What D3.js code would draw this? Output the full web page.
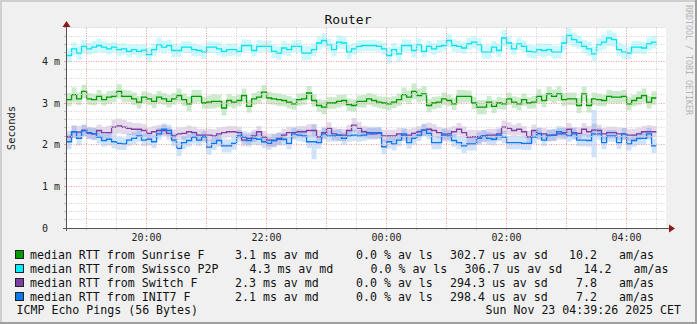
<!DOCTYPE html>
<html><head><meta charset="utf-8">
<script src="https://cdn.jsdelivr.net/npm/d3@7"></script>
<style>
html,body{margin:0;padding:0;background:#f0f0f0;}
svg{display:block;}
text{font-family:"DejaVu Sans Mono",monospace;}
</style></head><body>
<svg id="chart" width="697" height="324"></svg>
<script>
// ---- chart data -------------------------------------------------------
const chartTitle = "Router";
const yAxisTitle = "Seconds";
const footerLeft = "ICMP Echo Pings (56 Bytes)";
const footerRight = "Sun Nov 23 04:39:26 2025 CET";
const sideCredit = "RRDTOOL / TOBI OETIKER";

// time window (UTC-based wall clock) and 5-minute sample steps
const rangeStart = Date.UTC(2025, 10, 22, 18, 39, 26);
const rangeEnd   = Date.UTC(2025, 10, 23, 4, 39, 26);
const firstStep  = Date.UTC(2025, 10, 22, 18, 40, 0);
const stepMinutes = 5;

const yTickValues = [0, 1, 2, 3, 4];
const yTickLabels = ["0", "1 m", "2 m", "3 m", "4 m"];
const xTickLabels = ["20:00", "22:00", "00:00", "02:00", "04:00"];

// median RTT per 5-minute step, milliseconds
const sunriseMedian = [
3.08,3.20,3.10,3.28,3.10,3.08,3.16,3.08,3.14,3.16,3.28,3.16,3.16,3.10,3.02,3.14,3.10,3.04,3.14,3.10,
3.04,3.10,3.18,3.08,2.98,3.16,3.16,3.00,3.02,3.04,3.04,2.88,3.06,3.02,3.06,3.18,2.92,3.10,3.14,
3.26,3.12,3.10,3.08,3.06,3.02,2.98,3.08,3.10,3.24,3.06,2.94,2.90,3.00,3.00,3.04,3.06,2.96,2.94,3.04,
3.04,3.10,3.06,3.02,3.00,2.98,3.02,3.08,3.20,3.14,3.28,3.18,3.22,2.94,3.00,3.02,3.10,3.06,2.98,3.16,
3.16,3.16,3.00,2.90,2.90,3.02,2.92,3.00,2.98,3.10,3.02,2.98,3.08,3.00,3.02,3.16,3.06,3.22,3.16,3.22,
3.08,3.10,3.10,2.94,3.22,2.94,3.10,3.08,3.06,3.16,3.14,3.14,3.16,2.98,3.06,3.12,3.18,3.02,3.12];
const swisscoMedian = [
4.14,4.30,4.20,4.36,4.30,4.34,4.38,4.34,4.30,4.34,4.28,4.30,4.24,4.28,4.24,4.27,4.16,4.28,4.40,4.34,
4.38,4.26,4.26,4.34,4.34,4.28,4.26,4.22,4.34,4.34,4.30,4.24,4.28,4.28,4.24,4.38,4.38,4.26,4.36,
4.36,4.36,4.24,4.20,4.32,4.28,4.36,4.36,4.20,4.20,4.28,4.44,4.50,4.40,4.28,4.46,4.44,4.22,4.30,4.36,
4.38,4.38,4.38,4.36,4.30,4.14,4.28,4.18,4.38,4.38,4.26,4.40,4.24,4.36,4.30,4.36,4.38,4.50,4.38,4.36,
4.32,4.42,4.46,4.40,4.22,4.22,4.34,4.26,4.56,4.44,4.30,4.42,4.36,4.24,4.22,4.28,4.26,4.28,4.22,4.22,
4.44,4.62,4.52,4.46,4.36,4.30,4.18,4.40,4.46,4.56,4.52,4.28,4.22,4.20,4.34,4.34,4.32,4.42,4.46];
const switchMedian = [
2.19,2.31,2.30,2.34,2.29,2.26,2.34,2.29,2.29,2.42,2.45,2.42,2.39,2.37,2.37,2.34,2.27,2.31,2.34,2.34,
2.27,2.21,2.26,2.27,2.31,2.29,2.23,2.23,2.23,2.21,2.26,2.29,2.31,2.31,2.29,2.11,2.15,2.21,2.31,2.18,
2.11,2.10,2.15,2.23,2.29,2.29,2.31,2.31,2.34,2.34,2.19,2.29,2.39,2.26,2.23,2.23,2.34,2.47,2.39,
2.31,2.29,2.26,2.27,2.21,2.21,2.21,2.26,2.23,2.23,2.27,2.31,2.35,2.37,2.34,2.29,2.23,2.26,2.31,2.37,
2.29,2.18,2.19,2.19,2.21,2.23,2.23,2.26,2.42,2.39,2.34,2.37,2.31,2.19,2.34,2.27,2.26,2.23,2.23,2.26,
2.29,2.37,2.29,2.27,2.37,2.31,2.35,2.34,2.26,2.29,2.29,2.26,2.26,2.23,2.23,2.26,2.31,2.31,2.31];
const init7Median = [
2.07,2.31,2.15,2.34,2.27,2.26,2.18,2.10,2.13,2.07,2.03,2.02,2.11,2.15,2.21,2.11,2.13,2.07,2.26,2.37,
2.34,2.11,1.91,2.05,2.10,2.18,2.11,2.19,1.94,2.03,2.10,1.97,1.97,2.03,2.21,2.18,2.10,2.15,2.13,2.07,
2.03,2.10,2.13,2.13,2.03,2.26,2.23,2.21,2.07,2.07,2.05,2.26,2.21,2.21,2.23,2.15,2.21,2.23,2.21,
2.23,2.26,2.29,2.29,1.95,2.07,2.02,2.11,2.26,2.05,2.15,2.23,2.35,2.27,2.05,2.05,2.26,2.21,2.10,2.05,
1.97,2.02,2.02,2.15,2.21,2.15,2.13,2.23,2.18,2.05,2.05,2.05,2.03,2.03,2.18,2.26,2.11,2.21,2.23,2.31,
2.26,2.21,2.26,2.11,2.11,2.10,2.26,2.26,2.05,2.21,2.21,2.05,2.26,2.02,2.10,2.15,2.15,2.26,1.97];

// half of the per-step standard deviation, milliseconds (band drawn as median ± this)
const swisscoSpread = [
0.17,0.15,0.17,0.16,0.14,0.15,0.16,0.13,0.14,0.13,0.15,0.14,0.15,0.13,0.15,0.14,0.18,0.15,0.17,0.15,
0.14,0.16,0.15,0.14,0.14,0.15,0.14,0.16,0.14,0.13,0.16,0.14,0.15,0.14,0.13,0.15,0.14,0.14,0.15,
0.13,0.14,0.16,0.17,0.16,0.15,0.14,0.15,0.18,0.17,0.15,0.16,0.17,0.15,0.16,0.16,0.15,0.17,0.14,0.14,
0.13,0.13,0.14,0.13,0.15,0.20,0.16,0.18,0.15,0.14,0.17,0.15,0.14,0.13,0.14,0.15,0.14,0.16,0.15,0.14,
0.14,0.14,0.15,0.16,0.16,0.17,0.15,0.16,0.20,0.16,0.14,0.15,0.14,0.15,0.16,0.15,0.16,0.15,0.16,0.15,
0.18,0.20,0.17,0.16,0.16,0.17,0.18,0.16,0.18,0.19,0.17,0.16,0.17,0.16,0.15,0.15,0.15,0.16,0.15];
const sunriseSpread = [
0.16,0.18,0.15,0.16,0.14,0.14,0.15,0.14,0.15,0.14,0.17,0.15,0.14,0.15,0.15,0.14,0.15,0.16,0.15,0.14,
0.15,0.14,0.17,0.15,0.18,0.16,0.15,0.14,0.16,0.17,0.15,0.18,0.15,0.15,0.14,0.17,0.15,0.14,0.15,
0.17,0.15,0.14,0.15,0.14,0.15,0.14,0.15,0.14,0.17,0.15,0.15,0.17,0.15,0.14,0.15,0.14,0.15,0.15,0.14,
0.15,0.14,0.15,0.14,0.15,0.16,0.14,0.15,0.17,0.16,0.19,0.17,0.18,0.16,0.15,0.14,0.15,0.14,0.15,0.16,
0.15,0.14,0.15,0.17,0.17,0.15,0.16,0.15,0.14,0.15,0.14,0.16,0.15,0.14,0.15,0.17,0.16,0.17,0.16,0.18,
0.16,0.15,0.15,0.18,0.17,0.17,0.15,0.15,0.14,0.16,0.15,0.15,0.15,0.16,0.14,0.16,0.17,0.15,0.16];
const switchSpread = [
0.14,0.15,0.15,0.14,0.14,0.15,0.14,0.14,0.17,0.18,0.18,0.17,0.16,0.15,0.15,0.15,0.14,0.14,0.14,0.14,
0.15,0.16,0.15,0.15,0.15,0.14,0.15,0.15,0.15,0.16,0.15,0.14,0.14,0.14,0.14,0.15,0.15,0.15,0.14,
0.15,0.16,0.16,0.15,0.15,0.14,0.14,0.14,0.14,0.15,0.15,0.16,0.14,0.15,0.15,0.15,0.15,0.14,0.17,0.16,
0.14,0.14,0.14,0.14,0.15,0.15,0.15,0.14,0.15,0.15,0.14,0.14,0.15,0.16,0.15,0.14,0.15,0.15,0.14,0.15,
0.15,0.18,0.17,0.16,0.15,0.15,0.15,0.15,0.16,0.15,0.14,0.15,0.14,0.15,0.14,0.14,0.14,0.14,0.14,0.14,
0.14,0.15,0.14,0.14,0.15,0.14,0.15,0.14,0.14,0.14,0.14,0.15,0.14,0.14,0.15,0.15,0.14,0.16,0.14];
const init7Spread = [
0.18,0.15,0.17,0.14,0.14,0.14,0.15,0.15,0.15,0.16,0.16,0.15,0.15,0.15,0.14,0.15,0.15,0.15,0.14,0.14,
0.14,0.15,0.18,0.16,0.15,0.15,0.15,0.14,0.18,0.16,0.15,0.16,0.16,0.15,0.14,0.15,0.15,0.15,0.15,
0.15,0.15,0.15,0.15,0.15,0.14,0.14,0.14,0.15,0.15,0.42,0.15,0.14,0.14,0.14,0.14,0.15,0.14,0.14,0.14,
0.14,0.14,0.14,0.14,0.18,0.16,0.16,0.15,0.14,0.15,0.15,0.14,0.14,0.14,0.16,0.16,0.14,0.14,0.15,0.16,
0.17,0.16,0.16,0.15,0.14,0.15,0.15,0.14,0.15,0.16,0.16,0.16,0.16,0.16,0.15,0.14,0.15,0.14,0.14,0.14,
0.14,0.14,0.14,0.15,0.15,0.15,0.57,0.14,0.16,0.14,0.14,0.16,0.14,0.16,0.15,0.15,0.15,0.14,0.17];

const seriesNames = ["Sunrise F", "Swissco P2P", "Switch F", "INIT7 F"];
const seriesLine  = ["#009c00", "#00e4f0", "#7d3fa2", "#0a78f0"];
const seriesSwatch = ["#009c00", "#00f0ff", "#7d3fa2", "#0a78f0"];
const legendAvgMedian = ["3.1", "4.3", "2.3", "2.1"];
const legendAvgLoss   = ["0.0", "0.0", "0.0", "0.0"];
const legendAvgSd     = ["302.7", "306.7", "294.3", "298.4"];
const legendAmAs      = ["10.2", "14.2", "7.8", "7.2"];

// ---- drawing -----------------------------------------------------------
const W = 697, H = 324;
const svg = d3.select("#chart");

// frame
svg.append("rect").attr("width", W).attr("height", H).attr("fill", "#f0f0f0");
svg.append("path").attr("d", `M0,${H} V0 H${W}`).attr("fill", "none")
  .attr("stroke", "#cfcfcf").attr("stroke-width", 4);
svg.append("path").attr("d", `M0,${H} H${W} V0`).attr("fill", "none")
  .attr("stroke", "#9e9e9e").attr("stroke-width", 4);

const plot = {left: 66, right: 666, top: 28, bottom: 228};
const x = d3.scaleUtc().domain([rangeStart, rangeEnd]).range([plot.left, plot.right]);
const y = d3.scaleLinear().domain([0, 4.8]).range([plot.bottom, plot.top]);

svg.append("rect").attr("x", plot.left).attr("y", plot.top)
  .attr("width", plot.right - plot.left).attr("height", plot.bottom - plot.top)
  .attr("fill", "#ffffff");

const series = [
  {median: sunriseMedian, spread: sunriseSpread},
  {median: swisscoMedian, spread: swisscoSpread},
  {median: switchMedian,  spread: switchSpread},
  {median: init7Median,   spread: init7Spread}
].map((s, i) => {
  const pts = s.median.map((m, k) => ({t: firstStep + k * stepMinutes * 60000, m, sd: s.spread[k]}));
  const last = pts[pts.length - 1];
  pts.push({t: last.t + stepMinutes * 60000, m: last.m, sd: last.sd});
  return {pts, color: seriesLine[i]};
});

const clip = svg.append("defs").append("clipPath").attr("id", "plotclip");
clip.append("rect").attr("x", plot.left).attr("y", plot.top)
  .attr("width", plot.right - plot.left).attr("height", plot.bottom - plot.top);

const gData = svg.append("g").attr("clip-path", "url(#plotclip)");
const area = d3.area().curve(d3.curveStepAfter)
  .x(d => x(d.t)).y0(d => y(d.m - d.sd)).y1(d => y(d.m + d.sd));
const line = d3.line().curve(d3.curveStepAfter).x(d => x(d.t)).y(d => y(d.m));

// deviation bands
series.forEach(s => {
  gData.append("path").attr("d", area(s.pts)).attr("fill", s.color).attr("fill-opacity", 0.2);
});

// grid
const snap = v => Math.floor(v) + 0.5;
const gGrid = svg.append("g");
const minorY = d3.range(0, 4.81, 0.2);
minorY.forEach(v => {
  const major = Math.abs(v - Math.round(v)) < 1e-6;
  gGrid.append("line").attr("x1", plot.left).attr("x2", plot.right)
    .attr("y1", snap(y(v))).attr("y2", snap(y(v)))
    .attr("stroke", major ? "#f29a9a" : "#d2d2d2").attr("stroke-dasharray", "1,1.5");
  gGrid.append("line").attr("x1", plot.left - 2).attr("x2", plot.left)
    .attr("y1", snap(y(v))).attr("y2", snap(y(v)))
    .attr("stroke", major ? "#f29a9a" : "#bdbdbd");
});
const halfHours = d3.utcMinute.every(30).range(new Date(rangeStart), new Date(rangeEnd));
halfHours.forEach(t => {
  const major = t.getUTCMinutes() === 0;
  const xp = snap(x(t));
  gGrid.append("line").attr("x1", xp).attr("x2", xp)
    .attr("y1", plot.top).attr("y2", plot.bottom)
    .attr("stroke", major ? "#f29a9a" : "#d2d2d2").attr("stroke-dasharray", "1,1.5");
  gGrid.append("line").attr("x1", xp).attr("x2", xp)
    .attr("y1", plot.bottom).attr("y2", plot.bottom + 2)
    .attr("stroke", major ? "#f29a9a" : "#bdbdbd");
});

// median lines
series.forEach(s => {
  gData.append("path").attr("d", line(s.pts)).attr("fill", "none")
    .attr("stroke", s.color).attr("stroke-width", 1.3);
});

// axes
svg.append("line").attr("x1", plot.left - 3).attr("x2", plot.right + 4)
  .attr("y1", plot.bottom + 0.5).attr("y2", plot.bottom + 0.5).attr("stroke", "#555");
svg.append("line").attr("x1", plot.left + 0.5).attr("x2", plot.left + 0.5)
  .attr("y1", plot.bottom + 3).attr("y2", plot.top - 4).attr("stroke", "#555");
svg.append("path").attr("d", `M${plot.left - 3.5},${plot.top - 1} L${plot.left + 0.5},${plot.top - 7} L${plot.left + 4.5},${plot.top - 1}Z`)
  .attr("fill", "#8a1a1a");
svg.append("path").attr("d", `M${plot.right + 3},${plot.bottom - 3.5} L${plot.right + 9},${plot.bottom + 0.5} L${plot.right + 3},${plot.bottom + 4.5}Z`)
  .attr("fill", "#8a1a1a");

// tick labels
yTickValues.forEach((v, i) => {
  svg.append("text").attr("x", 42).attr("y", y(v) + 3.5)
    .attr("font-size", 10).attr("fill", "#222").attr("xml:space", "preserve")
    .style("white-space", "pre").text(yTickLabels[i]);
});
const labelHours = [20, 22, 0, 2, 4];
const labelTimes = labelHours.map(h => h >= 12 ? Date.UTC(2025, 10, 22, h) : Date.UTC(2025, 10, 23, h));
labelTimes.forEach((t, i) => {
  svg.append("text").attr("x", x(t)).attr("y", 240.5).attr("text-anchor", "middle")
    .attr("font-size", 10).attr("fill", "#222").text(xTickLabels[i]);
});

// titles
svg.append("text").attr("x", 348).attr("y", 23.5).attr("text-anchor", "middle")
  .attr("font-size", 13).attr("fill", "#111").text(chartTitle);
svg.append("text").attr("transform", "translate(14.5,128) rotate(-90)").attr("text-anchor", "middle")
  .attr("font-size", 10.5).attr("fill", "#222").text(yAxisTitle);
svg.append("text").attr("transform", "translate(686,60) rotate(90)").attr("text-anchor", "middle")
  .attr("font-size", 8.3).attr("fill", "#b4b4b4").text(sideCredit);

// legend
const rowY = [258.5, 272.5, 286.5, 300.5];
const rowShift = [0, 14.5, 0, 0];
const lg = svg.append("g").attr("font-size", 11.6).attr("fill", "#111");
seriesNames.forEach((name, i) => {
  const yy = rowY[i], dx = rowShift[i];
  svg.append("rect").attr("x", 15.5).attr("y", yy - 8).attr("width", 8).attr("height", 8)
    .attr("fill", seriesSwatch[i]).attr("stroke", "#222").attr("stroke-width", 1);
  const pieces = [
    [30, "median RTT from " + name],
    [235 + dx, legendAvgMedian[i] + " ms av md"],
    [356 + dx, legendAvgLoss[i] + " % av ls"],
    [450 + dx, legendAvgSd[i] + " us av sd"],
    [597 + dx, legendAmAs[i], "end"],
    [619 + dx, "am/as"]
  ];
  pieces.forEach(p => {
    lg.append("text").attr("x", p[0]).attr("y", yy).attr("text-anchor", p[2] || "start").text(p[1]);
  });
});
lg.append("text").attr("x", 16.5).attr("y", 314).text(footerLeft);
lg.append("text").attr("x", 681).attr("y", 314).attr("text-anchor", "end").text(footerRight);
</script>
</body></html>
